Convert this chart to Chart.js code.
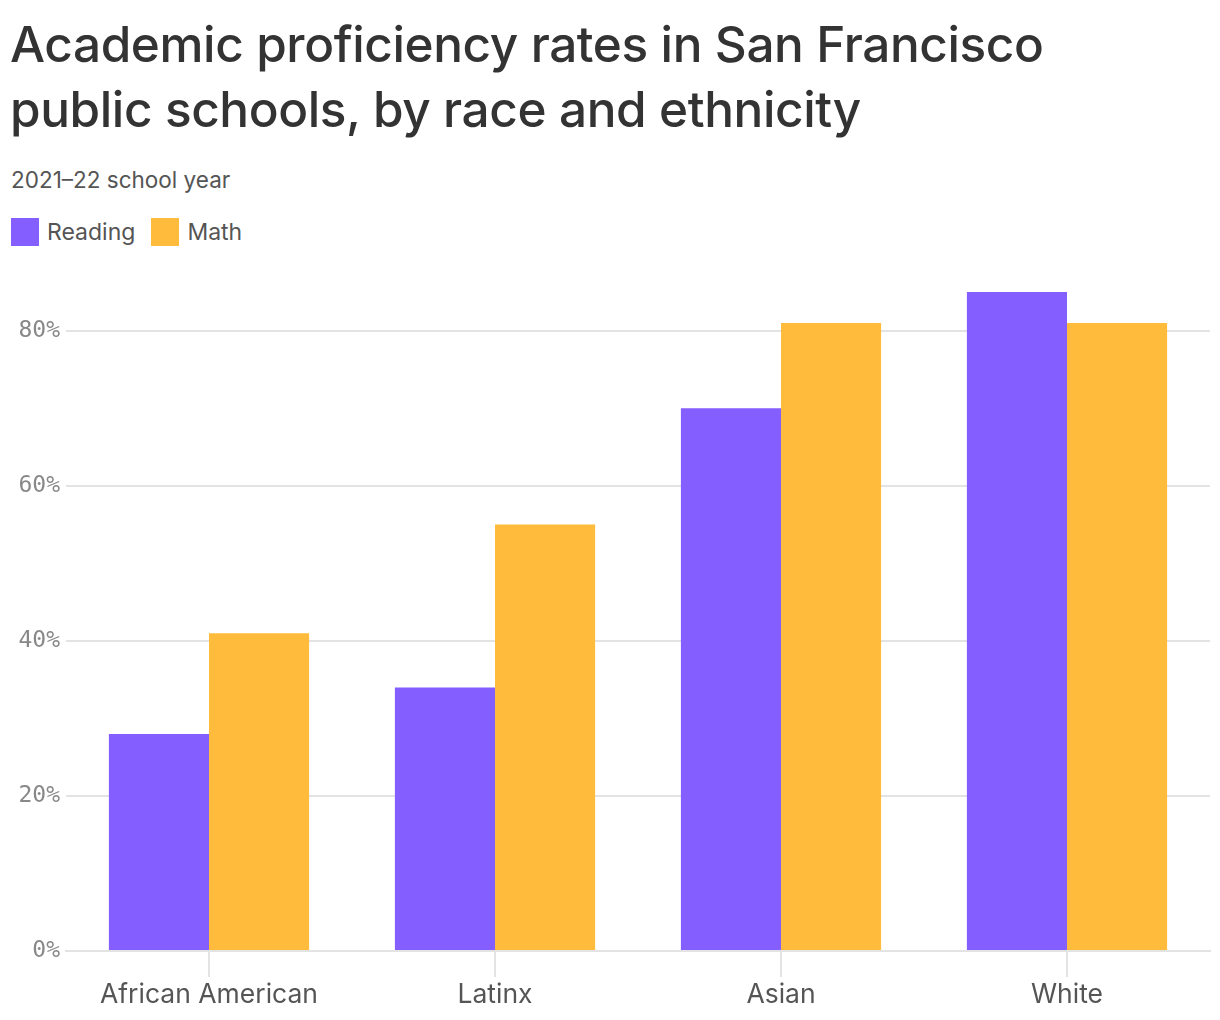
<!DOCTYPE html>
<html>
<head>
<meta charset="utf-8">
<script src="https://cdn.jsdelivr.net/npm/chart.js@4"></script>
<style>
  html, body { margin: 0; padding: 0; background: #fff; }
  body { width: 1220px; height: 1020px; position: relative; overflow: hidden; font-family: Inter, "Noto Sans", sans-serif; }
  #title { position: absolute; left: 10px; top: 12px; margin: 0; font-size: 49.5px; line-height: 65px; font-weight: 500; color: #333; letter-spacing: -0.4px; }
  #subtitle { position: absolute; left: 11px; top: 166px; font-size: 22.5px; color: #555; }
  #legend { position: absolute; left: 11px; top: 218px; font-size: 23px; color: #555; display: flex; align-items: center; }
  .sw { display: inline-block; width: 28px; height: 28px; margin-right: 8px; }
  .item { display: flex; align-items: center; margin-right: 16px; }
  #wrap { position: absolute; left: 0; top: 270px; width: 1220px; height: 750px; }
</style>
</head>
<body>
<h1 id="title">Academic proficiency rates in San Francisco<br>public schools, by race and ethnicity</h1>
<div id="subtitle">2021–22 school year</div>
<div id="legend"></div>
<div id="wrap"><canvas id="chart"></canvas></div>
<script>
// data
const categories = ['African American', 'Latinx', 'Asian', 'White'];
const reading = [28, 34, 70, 85];
const math = [41, 55, 81, 81];
const yTicks = [0, 20, 40, 60, 80];

const colors = { reading: '#845eff', math: '#ffbb3b' };

// legend in html
const legend = document.getElementById('legend');
[['Reading', colors.reading], ['Math', colors.math]].forEach(([name, c]) => {
  const it = document.createElement('span');
  it.className = 'item';
  it.innerHTML = `<span class="sw" style="background:${c}"></span>${name}`;
  legend.appendChild(it);
});

const ctx = document.getElementById('chart').getContext('2d');
new Chart(ctx, {
  type: 'bar',
  data: {
    labels: categories,
    datasets: [
      { label: 'Reading', data: reading, backgroundColor: colors.reading },
      { label: 'Math', data: math, backgroundColor: colors.math }
    ]
  },
  options: {
    responsive: true,
    maintainAspectRatio: false,
    animation: false,
    datasets: { bar: { categoryPercentage: 0.7, barPercentage: 1.0 } },
    layout: { padding: { top: 22, right: 10, left: 0, bottom: 0 } },
    plugins: { legend: { display: false }, tooltip: { enabled: false } },
    scales: {
      x: {
        grid: { display: true, offset: false, drawOnChartArea: false, drawTicks: true, tickLength: 26, color: '#e3e3e3', lineWidth: 2 },
        border: { display: true, color: '#e3e3e3', width: 2 },
        ticks: { color: '#555', font: { family: 'Inter, "Noto Sans", sans-serif', size: 26.5 }, padding: 2 },
        afterFit: s => { s.height = 69; }
      },
      y: {
        min: 0, max: 85,
        afterBuildTicks: s => { s.ticks = yTicks.map(v => ({ value: v })); },
        grid: { color: '#e3e3e3', lineWidth: 2, drawTicks: false },
        border: { display: false },
        ticks: {
          color: '#888', padding: 6,
          font: { family: '"DejaVu Sans Mono", monospace', size: 23 },
          callback: v => v + '%'
        },
        afterFit: s => { s.width = 66; }
      }
    }
  }
});
</script>
</body>
</html>
